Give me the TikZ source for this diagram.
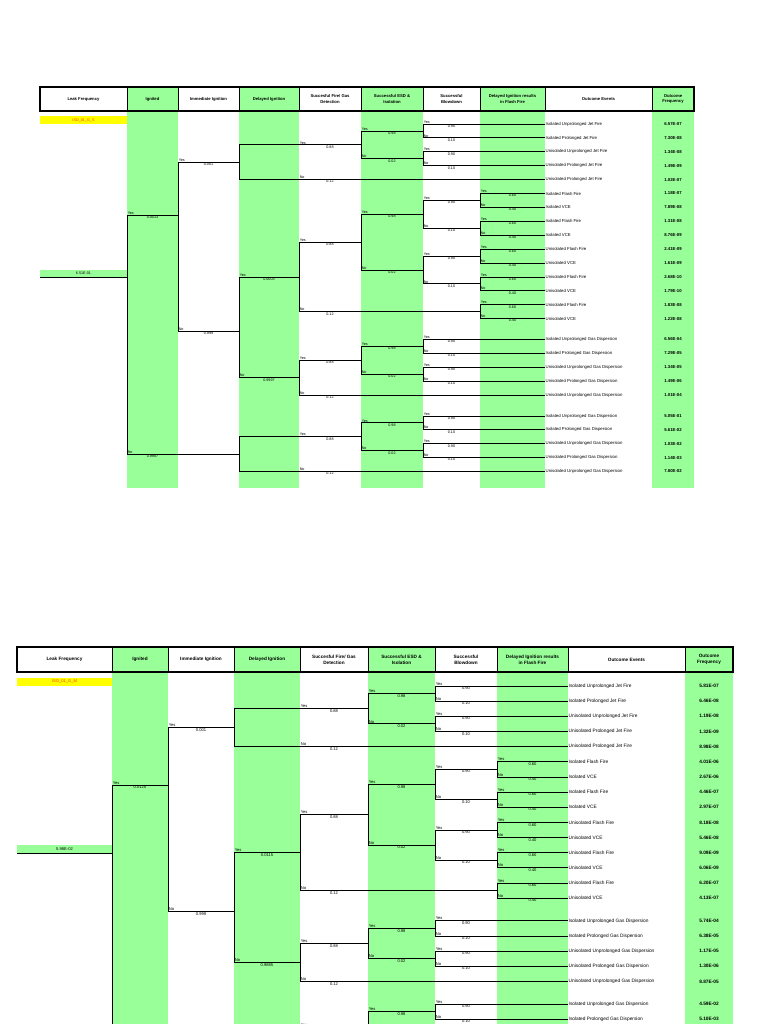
\documentclass[tikz,border=0pt]{standalone}
\usepackage{fontspec}
\setmainfont{Liberation Sans}
\definecolor{gr}{HTML}{99FF99}
\definecolor{ye}{HTML}{FFFF00}
\definecolor{idred}{HTML}{FF3300}
\tikzset{
  brl/.style={line width=0.8pt, black},
  lab/.style={inner sep=0.6pt, font=\lf},
  hcellst/.style={draw=black, line width=0.8pt},
}
\def\Y#1{\RO+\DY*(#1)}
\newcommand\vl[3]{\draw[brl] ({#1},{\Y{#2}}) -- ({#1},{\Y{#3}});}
\newcommand\brn[7]{%
  \draw[brl] ({#1},{\Y{#3}}) -- ({#2},{\Y{#3}});
  \node[lab,anchor=south west] at ({#4},{\Y{#3}}) {#6};
  \node[lab,anchor=north] at ({(#4+#5)/2},{\Y{#3}}) {#7};}
\newcommand\hcell[4]{%
  \filldraw[hcellst, fill=#3] ({#1},\HT) rectangle ({#2},\HB);
  \node[align=center, font=\hf, inner sep=0pt] at ({(#1+#2)/2},{(\HT+\HB)/2}) {#4};}
\newcommand\drawtree[9]{%
  % green columns
  \foreach \l/\r in {\XB/\XC,\XD/\XE,\XF/\XG,\XH/\XI,\XJ/\XK}
    \fill[gr] ({\l},\HB) rectangle ({\r},\BB);
  % header
  \hcell{\XA}{\XB}{white}{Leak Frequency}
  \hcell{\XB}{\XC}{gr}{Ignited}
  \hcell{\XC}{\XD}{white}{Immediate Ignition}
  \hcell{\XD}{\XE}{gr}{Delayed Ignition}
  \hcell{\XE}{\XF}{white}{Succesful Fire/ Gas\\Detection}
  \hcell{\XF}{\XG}{gr}{Successful ESD \&\\Isolation}
  \hcell{\XG}{\XH}{white}{Successful\\Blowdown}
  \hcell{\XH}{\XI}{gr}{Delayed Ignition results\\in Flash Fire}
  \hcell{\XI}{\XJ}{white}{Outcome Events}
  \hcell{\XJ}{\XK}{gr}{Outcome\\Frequency}
  \draw[line width=1.3pt] ({\XA},\HT) rectangle ({\XK},\HB);
  % id and leak
  \fill[ye] ({\XA},{\Y{-0.55}}) rectangle ({\XB},{\Y{0}});
  \node[font=\lf, text=idred, inner sep=0pt] at ({(\XA+\XB)/2},{\Y{-0.28}}) {#1};
  \fill[gr] ({\XA},{\Y{10.5}}) rectangle ({\XB},{\Y{11.05}});
  \node[font=\lf, inner sep=0pt] at ({(\XA+\XB)/2},{\Y{10.77}}) {#2};
  \draw[brl] ({\XA},{\Y{11.05}}) -- ({\XB},{\Y{11.05}});
  % ignited
  \vl{\XB}{6.55}{23.75}
  \brn{\XB}{\XC}{6.55}{\XB}{\XC}{Yes}{#3}
  \brn{\XB}{\XD}{23.75}{\XB}{\XC}{No}{#4}
  % immediate
  \vl{\XC}{2.75}{14.9}
  \brn{\XC}{\XD}{2.75}{\XC}{\XD}{Yes}{#5}
  \brn{\XC}{\XD}{14.9}{\XC}{\XD}{No}{#6}
  % delayed
  \vl{\XD}{11}{18.25}
  \brn{\XD}{\XE}{11}{\XD}{\XE}{Yes}{#7}
  \brn{\XD}{\XE}{18.25}{\XD}{\XE}{No}{#8}
  % group A
  \vl{\XD}{1.5}{4}
  \brn{\XD}{\XF}{1.5}{\XE}{\XF}{Yes}{0.88}
  \brn{\XD}{\XI}{4}{\XE}{\XF}{No}{0.12}
  \vl{\XF}{0.5}{2.5}
  \brn{\XF}{\XG}{0.5}{\XF}{\XG}{Yes}{0.98}
  \brn{\XF}{\XG}{2.5}{\XF}{\XG}{No}{0.02}
  \foreach \c in {0,2}{
    \vl{\XG}{\c}{\c+1}
    \brn{\XG}{\XI}{\c}{\XG}{\XH}{Yes}{0.90}
    \brn{\XG}{\XI}{\c+1}{\XG}{\XH}{No}{0.10}}
  % group B
  \vl{\XE}{8.5}{13.5}
  \brn{\XE}{\XF}{8.5}{\XE}{\XF}{Yes}{0.88}
  \brn{\XE}{\XH}{13.5}{\XE}{\XF}{No}{0.12}
  \vl{\XF}{6.5}{10.5}
  \brn{\XF}{\XG}{6.5}{\XF}{\XG}{Yes}{0.98}
  \brn{\XF}{\XG}{10.5}{\XF}{\XG}{No}{0.02}
  \foreach \c in {5.5,9.5}{
    \vl{\XG}{\c}{\c+2}
    \brn{\XG}{\XH}{\c}{\XG}{\XH}{Yes}{0.90}
    \brn{\XG}{\XH}{\c+2}{\XG}{\XH}{No}{0.10}}
  \foreach \c in {5,7,9,11,13}{
    \vl{\XH}{\c}{\c+1}
    \brn{\XH}{\XI}{\c}{\XH}{\XI}{Yes}{0.60}
    \brn{\XH}{\XI}{\c+1}{\XH}{\XI}{No}{0.40}}
  % groups C and D
  \foreach \o/\fx in {0/\XE,5.5/\XD}{
    \vl{\fx}{17+\o}{19.5+\o}
    \brn{\fx}{\XF}{17+\o}{\XE}{\XF}{Yes}{0.88}
    \brn{\fx}{\XI}{19.5+\o}{\XE}{\XF}{No}{0.12}
    \vl{\XF}{16+\o}{18+\o}
    \brn{\XF}{\XG}{16+\o}{\XF}{\XG}{Yes}{0.98}
    \brn{\XF}{\XG}{18+\o}{\XF}{\XG}{No}{0.02}
    \foreach \c in {15.5,17.5}{
      \vl{\XG}{\c+\o}{\c+1+\o}
      \brn{\XG}{\XI}{\c+\o}{\XG}{\XH}{Yes}{0.90}
      \brn{\XG}{\XI}{\c+1+\o}{\XG}{\XH}{No}{0.10}}}
  % leaves
  \foreach \n/\f [count=\k from 0] in {#9}{
    \pgfmathsetmacro\kk{\k+0.5*(\k>14)+0.5*(\k>19)}
    \node[font=\of, anchor=west, inner sep=0.5pt] at ({\XI},{\Y{\kk}}) {\n};
    \node[font=\of\bfseries, inner sep=0pt] at ({(\XJ+\XK)/2},{\Y{\kk}}) {\f};}
}
\begin{document}
\begin{tikzpicture}[x=1pt,y=-1pt]
\useasboundingbox (0,0) rectangle (768,1024);
\clip (0,0) rectangle (768,1024);
\fill[white] (0,0) rectangle (768,1024);
% ---- top tree
\def\hf{\fontsize{4.2}{5.2}\selectfont\bfseries}
\def\lf{\fontsize{3.7}{4.2}\selectfont}
\def\of{\fontsize{4.3}{5}\selectfont}
\def\XA{40}\def\XB{127}\def\XC{178}\def\XD{239}\def\XE{299}\def\XF{361}
\def\XG{423}\def\XH{480}\def\XI{545}\def\XJ{652}\def\XK{694}
\def\HT{87}\def\HB{111}\def\BB{488}\def\RO{124}\def\DY{13.9}
\drawtree{ISO\_01\_G\_S}{6.51E-01}{0.0013}{0.9987}{0.001}{0.999}{0.0003}{0.9997}{%
Isolated Unprolonged Jet Fire/6.57E-07,Isolated Prolonged Jet Fire/7.30E-08,%
Unisolated Unprolonged Jet Fire/1.34E-08,Unisolated Prolonged Jet Fire/1.49E-09,%
Unisolated Prolonged Jet Fire/1.02E-07,Isolated Flash Fire/1.18E-07,Isolated VCE/7.89E-08,%
Isolated Flash Fire/1.31E-08,Isolated VCE/8.76E-09,Unisolated Flash Fire/2.41E-09,%
Unisolated VCE/1.61E-09,Unisolated Flash Fire/2.68E-10,Unisolated VCE/1.79E-10,%
Unisolated Flash Fire/1.83E-08,Unisolated VCE/1.22E-08,%
Isolated Unprolonged Gas Dispersion/6.56E-04,Isolated Prolonged Gas Dispersion/7.29E-05,%
Unisolated Unprolonged Gas Dispersion/1.34E-05,Unisolated Prolonged Gas Dispersion/1.49E-06,%
Unisolated Unprolonged Gas Dispersion/1.01E-04,%
Isolated Unprolonged Gas Dispersion/5.05E-01,Isolated Prolonged Gas Dispersion/5.61E-02,%
Unisolated Unprolonged Gas Dispersion/1.03E-02,Unisolated Prolonged Gas Dispersion/1.14E-03,%
Unisolated Unprolonged Gas Dispersion/7.80E-02}
% ---- bottom tree
\def\hf{\fontsize{4.7}{5.8}\selectfont\bfseries}
\def\lf{\fontsize{4.1}{4.6}\selectfont}
\def\of{\fontsize{4.8}{5.5}\selectfont}
\def\XA{17}\def\XB{112}\def\XC{168}\def\XD{234}\def\XE{300}\def\XF{368}
\def\XG{435}\def\XH{497}\def\XI{568}\def\XJ{685}\def\XK{733}
\def\HT{647}\def\HB{672}\def\BB{1040}\def\RO{686}\def\DY{15.15}
\drawtree{ISO\_01\_G\_M}{5.98E-02}{0.0125}{0.9875}{0.001}{0.999}{0.0115}{0.9885}{%
Isolated Unprolonged Jet Fire/5.81E-07,Isolated Prolonged Jet Fire/6.46E-08,%
Unisolated Unprolonged Jet Fire/1.19E-08,Unisolated Prolonged Jet Fire/1.32E-09,%
Unisolated Prolonged Jet Fire/8.98E-08,Isolated Flash Fire/4.01E-06,Isolated VCE/2.67E-06,%
Isolated Flash Fire/4.46E-07,Isolated VCE/2.97E-07,Unisolated Flash Fire/8.18E-08,%
Unisolated VCE/5.46E-08,Unisolated Flash Fire/9.09E-09,Unisolated VCE/6.06E-09,%
Unisolated Flash Fire/6.20E-07,Unisolated VCE/4.13E-07,%
Isolated Unprolonged Gas Dispersion/5.74E-04,Isolated Prolonged Gas Dispersion/6.38E-05,%
Unisolated Unprolonged Gas Dispersion/1.17E-05,Unisolated Prolonged Gas Dispersion/1.30E-06,%
Unisolated Unprolonged Gas Dispersion/8.87E-05,%
Isolated Unprolonged Gas Dispersion/4.59E-02,Isolated Prolonged Gas Dispersion/5.10E-03}
\end{tikzpicture}
\end{document}
